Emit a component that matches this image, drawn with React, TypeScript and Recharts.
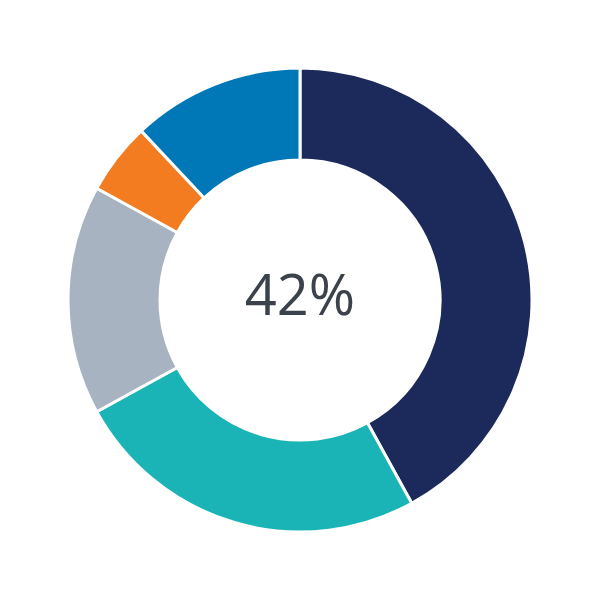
import { PieChart, Pie, Cell } from 'recharts';

const categories = ['Navy', 'Teal', 'Gray', 'Orange', 'Blue'];
const shares = [42, 25, 16, 5, 12];
const colors = ['#1b2a5a', '#1ab4b6', '#a8b3c1', '#f37b20', '#0077b6'];
const centerLabel = '42%';

const data = categories.map((name, i) => ({ name, value: shares[i] }));

const App = () => {
    return (
        <div style={{ position: 'absolute', left: 0, top: 0, width: 600, height: 600, background: '#fff' }}>
            <PieChart width={600} height={600}>
                <Pie
                    data={data}
                    dataKey="value"
                    cx={295}
                    cy={295}
                    innerRadius={140}
                    outerRadius={232}
                    startAngle={90}
                    endAngle={-270}
                    stroke="#ffffff"
                    strokeWidth={3}
                    isAnimationActive={false}
                >
                    {data.map((d, i) => <Cell key={d.name} fill={colors[i]} />)}
                </Pie>
                <text
                    x={300}
                    y={293}
                    textAnchor="middle"
                    dominantBaseline="central"
                    fontFamily="'Open Sans', sans-serif"
                    fontSize={56}
                    fill="#3b424b"
                >
                    {centerLabel}
                </text>
            </PieChart>
        </div>
    );
}

export default App;
